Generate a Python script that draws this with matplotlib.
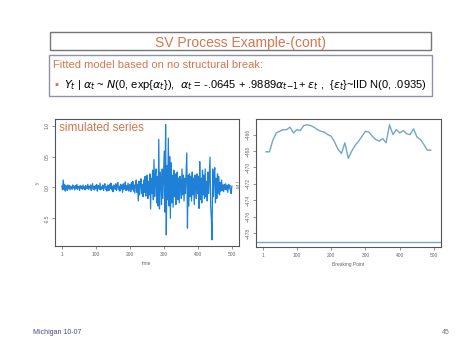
import matplotlib
matplotlib.use('Agg')
import matplotlib.pyplot as plt
from matplotlib.patches import Rectangle
import numpy as np

# simulated series, read every second time point (t = 1, 3, ..., 499)
series_t = np.arange(1, 501, 2)
series_y = [
    0.02, -0.04, 0.12, -0.03, 0.05, -0.06, 0.03, 0.01, -0.05, 0.04,
    -0.02, 0.03, -0.04, 0.02, 0.00, -0.03, 0.04, -0.01, 0.02, -0.04,
    0.03, -0.02, 0.05, -0.03, 0.01, 0.02, -0.05, 0.03, -0.01, 0.02,
    -0.03, 0.04, -0.02, 0.01, -0.04, 0.03, 0.00, -0.02, 0.05, -0.03,
    0.02, -0.01, 0.04, -0.05, 0.02, 0.06, -0.03, 0.01, -0.04, 0.03,
    -0.02, 0.05, -0.06, 0.03, 0.02, -0.03, 0.07, -0.04, 0.01, -0.02,
    0.04, -0.05, 0.02, 0.06, -0.03, 0.01, -0.06, 0.04, 0.03, -0.05,
    0.05, -0.02, 0.07, -0.04, 0.02, -0.07, 0.04, 0.01, -0.03, 0.06,
    -0.05, 0.03, 0.08, -0.04, 0.02, -0.06, 0.05, -0.02, 0.04, -0.08,
    0.06, -0.03, 0.02, 0.09, -0.05, 0.03, -0.04, 0.07, -0.06, 0.02,
    0.05, -0.07, 0.08, -0.03, 0.10, -0.06, 0.04, -0.09, 0.06, 0.12,
    -0.08, 0.05, -0.22, 0.10, -0.12, 0.07, 0.14, -0.10, 0.05, -0.15,
    0.12, -0.08, 0.18, -0.14, 0.06, 0.20, -0.18, 0.10, -0.12, 0.22,
    -0.35, 0.15, -0.10, 0.28, -0.20, 0.45, -0.15, 0.22, 0.30, -0.25,
    0.18, -0.30, 0.78, -0.35, 0.25, 0.10, -0.28, 0.30, -0.18, 0.22,
    0.59, -0.40, 1.02, -0.77, 0.35, -0.20, 0.80, -0.30, 0.50, -0.50,
    0.40, -0.25, 0.20, -0.32, 0.28, -0.15, 0.22, -0.28, 0.12, 0.25,
    -0.20, 0.15, -0.25, 0.18, 0.10, -0.18, 0.30, -0.12, 0.20, -0.22,
    0.15, -0.10, 0.25, 0.56, -0.66, 0.20, -0.30, 0.22, -0.15, 0.18,
    -0.22, 0.25, -0.12, 0.15, -0.28, 0.20, 0.08, -0.18, 0.22, -0.10,
    0.18, -0.34, 0.42, -0.20, 0.15, -0.25, 0.28, -0.12, 0.20, -0.18,
    0.30, -0.15, 0.10, -0.22, 0.25, -0.10, 0.18, 0.49, -0.30, -0.50,
    -0.85, 0.30, -0.15, 0.20, 0.32, -0.25, 0.15, -0.18, 0.22, -0.10,
    0.18, -0.12, 0.08, -0.06, 0.12, -0.05, 0.04, -0.07, 0.05, -0.03,
    0.06, -0.04, 0.03, -0.08, 0.05, -0.02, 0.04, -0.06, -0.10, 0.02,
]

# log-likelihood against breaking point
break_pts = np.arange(10, 500, 10)
mll = [
    -468.1, -468.1, -466.7, -465.8, -465.6, -465.4, -465.4, -465.1, -465.8, -465.4,
    -465.5, -464.9, -464.8, -464.9, -465.1, -465.4, -465.6, -465.7, -466.0, -466.2,
    -466.9, -467.8, -468.3, -467.0, -468.9, -468.0, -467.3, -466.8, -466.2, -465.6,
    -465.7, -466.2, -466.6, -466.8, -466.5, -467.0, -464.8, -466.0, -465.4, -465.8,
    -465.5, -465.9, -466.0, -465.3, -466.3, -466.6, -467.2, -467.9, -467.9,
]
mll_nobreak = -479.1

left_xticks = [1, 100, 200, 300, 400, 500]
left_yticks = [-0.5, 0.0, 0.5, 1.0]
right_yticks = [-478, -476, -474, -472, -470, -468, -466]

W, H = 474, 364
orange = '#d5764f'
tick_grey = '#666666'

plt.rcParams['font.family'] = ['Liberation Sans', 'DejaVu Sans']
fig = plt.figure(figsize=(W / 100, H / 100), dpi=100)


def box(x0, y0, x1, y1, color):
    fig.patches.append(Rectangle((x0 / W, 1 - y1 / H), (x1 - x0) / W, (y1 - y0) / H,
                                 transform=fig.transFigure, fill=False,
                                 edgecolor=color, linewidth=1.0))


def txt(x, y, s, **kw):
    fig.text(x / W, 1 - y / H, s, va='center', **kw)


# slide header
box(50, 32, 431, 50, '#757575')
txt(240, 43, 'SV Process Example-(cont)', ha='center', color=orange, fontsize=10)
box(49, 55, 432, 96, '#9090ac')
txt(53, 65, 'Fitted model based on no structural break:', ha='left', color=orange, fontsize=8)
txt(54, 85, '\u25aa', ha='left', color=orange, fontsize=8)
txt(64, 85, r'$Y_t$ | $\alpha_t$ ~ $N$(0, exp{$\alpha_t$}),  $\alpha_t$ = -.0645 + .9889$\alpha_{t\!-\!1}$+ $\varepsilon_t$ ,  {$\varepsilon_t$}~IID N(0, .0935)',
    ha='left', color='black', fontsize=8)


def style_axes(ax):
    for sp in ax.spines.values():
        sp.set_color('#555555')
        sp.set_linewidth(0.8)
    ax.tick_params(labelsize=3.5, colors=tick_grey, length=2, width=0.5, pad=2)
    for lab in ax.get_yticklabels():
        lab.set_rotation(90)
        lab.set_va('center')


# left: simulated series
ax1 = fig.add_axes([55 / W, 1 - 246 / H, 184 / W, 127 / H])
ax1.plot(series_t, series_y, color='#1f80d8', linewidth=0.9)
ax1.set_xlim(-19, 520)
ax1.set_ylim(-0.95, 1.11)
ax1.set_xticks(left_xticks)
ax1.set_yticks(left_yticks)
ax1.set_yticklabels(['-0.5', '0.0', '0.5', '1.0'])
ax1.set_xlabel('time', fontsize=3.5, color=tick_grey, labelpad=3)
ax1.set_ylabel('y', fontsize=3.5, color=tick_grey, labelpad=3)
style_axes(ax1)
ax1.text(0.02, 0.93, 'simulated series', transform=ax1.transAxes, color=orange,
         fontsize=8.5, ha='left', va='center')

# right: likelihood by breaking point
ax2 = fig.add_axes([256 / W, 1 - 247 / H, 185 / W, 128 / H])
ax2.plot(break_pts, mll, color='#72a6cc', linewidth=1.0)
ax2.axhline(mll_nobreak, color='#72a6cc', linewidth=1.0)
ax2.set_xlim(-19, 520)
ax2.set_ylim(-479.7, -464.1)
ax2.set_xticks(left_xticks)
ax2.set_yticks(right_yticks)
ax2.set_xlabel('Breaking Point', fontsize=3.5, color=tick_grey, labelpad=3)
ax2.set_ylabel('MLL', fontsize=3.5, color=tick_grey, labelpad=3)
style_axes(ax2)

# footer
txt(33, 333, 'Michigan 10-07', ha='left', color='#4a4a8a', fontsize=5)
txt(446, 332, '45', ha='center', color='#777777', fontsize=5)

fig.savefig('out.png', dpi=100)
